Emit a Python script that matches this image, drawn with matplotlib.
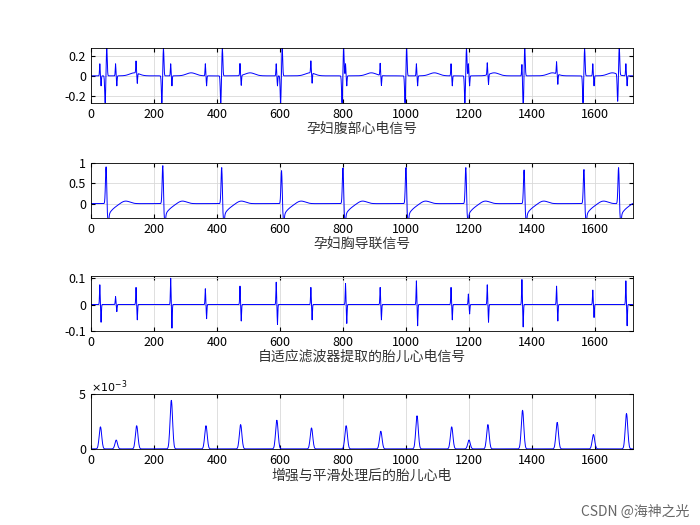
import numpy as np
import matplotlib.pyplot as plt

plt.rcParams['font.family'] = ['Noto Sans CJK SC', 'DejaVu Sans']

# values
n_samples = 1720
maternal_pos = [48, 228, 415, 605, 800, 1000, 1190, 1375, 1565, 1675]
maternal_amp = [0.95, 0.98, 0.93, 0.85, 0.92, 0.93, 0.93, 0.87, 0.88, 0.93]
fetal_pos = [30, 80, 145, 255, 365, 475, 590, 700, 810, 920, 1035, 1145, 1200, 1260, 1370, 1480, 1595, 1700]
fetal_amp = [2.0, 0.8, 2.1, 4.4, 2.1, 2.2, 2.6, 1.9, 2.1, 1.6, 3.0, 2.0, 0.8, 2.2, 3.5, 2.4, 1.3, 3.2]  # x1e-3
fetal_spike = [0.075, 0.03, 0.065, 0.1, 0.06, 0.07, 0.085, 0.065, 0.08, 0.065, 0.09, 0.065, 0.04, 0.075, 0.095, 0.07, 0.055, 0.09]

titles = ['孕妇腹部心电信号', '孕妇胸导联信号', '自适应滤波器提取的胎儿心电信号', '增强与平滑处理后的胎儿心电']

n = np.arange(n_samples)

def bump(c, w):
    return np.exp(-0.5 * ((n - c) / w) ** 2)

chest = np.zeros(n_samples)
abdomen = np.zeros(n_samples)
for p, a in zip(maternal_pos, maternal_amp):
    chest += a * bump(p, 2.0) - 0.4 * a * bump(p + 5, 2.5) * (n >= p)
    chest += -0.3 * np.exp(-(n - p - 6) / 20.0) * (n >= p + 6)
    chest += 0.08 * bump(p + 60, 15)
    abdomen += -0.27 * bump(p - 3, 1.5) + 0.28 * bump(p + 2, 1.5) + 0.03 * bump(p + 90, 15)

fetal = np.zeros(n_samples)
smooth = np.zeros(n_samples)
for p, a, s in zip(fetal_pos, fetal_amp, fetal_spike):
    fetal += s * bump(p - 2, 1.0) - 0.9 * s * bump(p + 2, 1.0)
    abdomen += 0.12 * bump(p - 2, 1.0) - 0.1 * bump(p + 2, 1.0)
    smooth += a * 1e-3 * bump(p, 4)

signals = [abdomen, chest, fetal, smooth]
ylims = [(-0.27, 0.28), (-0.35, 1.0), (-0.1, 0.11), (0, 5e-3)]
yticks = [[-0.2, 0, 0.2], [0, 0.5, 1], [-0.1, 0, 0.1], [0, 5e-3]]
ylabels = [['-0.2', '0', '0.2'], ['0', '0.5', '1'], ['-0.1', '0', '0.1'], ['0', '5']]
bottoms = [0.804, 0.585, 0.370, 0.145]

fig = plt.figure(figsize=(7, 5.25), dpi=100)
for i in range(4):
    ax = fig.add_axes([0.13, bottoms[i], 0.774, 0.105])
    ax.plot(n, signals[i], color='blue', linewidth=0.7)
    ax.set_xlim(0, n_samples)
    ax.set_ylim(*ylims[i])
    ax.set_yticks(yticks[i])
    ax.set_yticklabels(ylabels[i])
    ax.set_xticks(range(0, 1700, 200))
    ax.grid(True, color='#d9d9d9', linewidth=0.6)
    ax.tick_params(direction='in', labelsize=9, length=3, top=True, right=True)
    ax.set_xlabel(titles[i], fontsize=10, labelpad=1, color='#333333')
    if i == 3:
        ax.text(0, 1.04, r'$\times10^{-3}$', transform=ax.transAxes, fontsize=8)
    for s in ax.spines.values():
        s.set_linewidth(0.6)

fig.text(0.985, 0.012, 'CSDN @海神之光', ha='right', va='bottom', fontsize=10, color='#666666')
fig.savefig('out.png')
